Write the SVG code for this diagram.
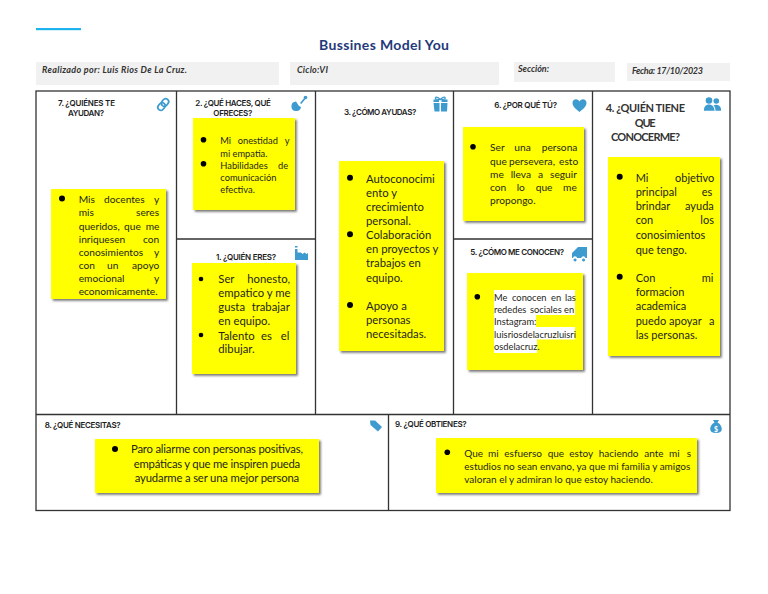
<svg xmlns="http://www.w3.org/2000/svg" width="768" height="594" viewBox="0 0 768 594">
<style>
text{font-family:"Lato","Liberation Sans",sans-serif;fill:#26261a}
.h{font-family:"Inter","Liberation Sans",sans-serif;font-weight:600;font-size:8px;fill:#1c1c1c}
.h4{font-family:"Lato","Liberation Sans",sans-serif;font-weight:700;font-size:11px;fill:#333}
.m{font-style:italic;font-weight:700;font-size:9px;fill:#333}
.note{fill:#ff0;filter:url(#sh)}
.bar{fill:#f1f1f1}
.grid{stroke:#333;stroke-width:1.3;fill:none}
.ic{fill:#3e9bcf}
.ics{fill:none;stroke:#3e9bcf}
.s95{font-size:9.3px}.s10{font-size:10px}.s105{font-size:10.2px}.s11{font-size:11px}.s115{font-size:11.3px}
</style>
<defs>
<filter id="sh" x="-10%" y="-10%" width="125%" height="125%"><feDropShadow dx="1.8" dy="1.8" stdDeviation="1.1" flood-color="#555" flood-opacity=".8"/></filter>
</defs>
<rect width="768" height="594" fill="#fff"/>
<rect x="36" y="28" width="45" height="2.2" fill="#1db4ee"/>
<text x="319" y="50" font-size="14" font-weight="700" textLength="130" style="fill:#1f3a7a">Bussines Model You</text>
<g id="meta">
<rect class="bar" x="36" y="62" width="243" height="23"/>
<rect class="bar" x="290" y="62" width="209" height="23"/>
<rect class="bar" x="514" y="62" width="101" height="20"/>
<rect class="bar" x="627" y="63" width="103" height="18"/>
<text class="m" x="42" y="73" textLength="145">Realizado por: Luis Rios De La Cruz.</text>
<text class="m" x="297" y="73" textLength="31">Ciclo:VI</text>
<text class="m" x="518" y="72" font-size="8" textLength="31">Sección:</text>
<text class="m" x="632" y="74" textLength="71">Fecha: 17/10/2023</text>
</g>
<g id="connectors">
<rect class="grid" x="36" y="91" width="694" height="419.5"/>
<path class="grid" d="M176.500 91V414.500M315.500 91V414.500M453.500 91V414.500M592.500 91V414.500M176.500 239H315.500M453.500 239H592.500M36 414.500H730M388.500 414.500V510.500"/>
</g>
<g id="n7">
<text class="h" x="58" y="106" textLength="57">7. ¿QUIÉNES TE</text>
<text class="h" x="68" y="116" textLength="36">AYUDAN?</text>
<g class="ics" stroke-width="1.7"><rect x="158.500" y="102.500" width="6" height="8" rx="3" transform="rotate(40 161.500 106.500)"/><rect x="162" y="98.500" width="6" height="8" rx="3" transform="rotate(40 165 102.500)"/></g>
<rect class="note" x="51" y="189" width="115" height="110"/>
<circle cx="62" cy="198.500" r="3"/>
<text class="s105"><tspan x="78.700" y="203">Mis</tspan><tspan x="104" y="203">docentes</tspan><tspan x="154" y="203">y</tspan><tspan x="78.700" y="216">mis</tspan><tspan x="136" y="216">seres</tspan><tspan x="78.700" y="229.500">queridos,</tspan><tspan x="124" y="229.500">que</tspan><tspan x="145.700" y="229.500">me</tspan><tspan x="78.700" y="243">inriquesen</tspan><tspan x="143" y="243">con</tspan><tspan x="78.700" y="256">conosimientos</tspan><tspan x="154" y="256">y</tspan><tspan x="78.700" y="269">con</tspan><tspan x="107" y="269">un</tspan><tspan x="132" y="269">apoyo</tspan><tspan x="78.700" y="281.500">emocional</tspan><tspan x="154" y="281.500">y</tspan><tspan x="78.700" y="294.500">economicamente.</tspan></text>
</g>
<g id="n2">
<text class="h" x="195.300" y="106" textLength="75.500">2. ¿QUÉ HACES, QUÉ</text>
<text class="h" x="213.300" y="116" textLength="39">OFRECES?</text>
<path class="ic" d="M296 101.500a4.800 4.800 0 1 0 5 5.500l-2-1zM300 103l5-6 1.300 1-5 6z"/><circle class="ic" cx="305.500" cy="97.500" r="1.800"/>
<rect class="note" x="193" y="118" width="102" height="92"/>
<circle cx="203.500" cy="139.700" r="2.800"/><circle cx="203.500" cy="163.700" r="2.800"/>
<text class="s95"><tspan x="220.300" y="144">Mi</tspan><tspan x="237.700" y="144">onestidad</tspan><tspan x="284.700" y="144">y</tspan><tspan x="220.300" y="156.500">mi empatia.</tspan><tspan x="220.300" y="169">Habilidades</tspan><tspan x="278" y="169">de</tspan><tspan x="220.300" y="180.500">comunicación</tspan><tspan x="220.300" y="192.500">efectiva.</tspan></text>
</g>
<g id="n1">
<text class="h" x="216" y="259.500" textLength="60">1. ¿QUIÉN ERES?</text>
<path class="ic" d="M295 246h2.500v1.500H295zM295 249h2.500v3.500l3.500 0 1.500 1.500 2-1.500 2 1.500 1.500-1V260H295z"/>
<rect class="note" x="192" y="263" width="104" height="111"/>
<circle cx="201" cy="279" r="2.300"/><circle cx="201" cy="335" r="2.300"/>
<text class="s115"><tspan x="218.300" y="283">Ser</tspan><tspan x="247.300" y="283">honesto,</tspan><tspan x="218.300" y="297">empatico y me</tspan><tspan x="218.300" y="311">gusta</tspan><tspan x="251.700" y="311">trabajar</tspan><tspan x="218.300" y="325">en equipo.</tspan><tspan x="218.300" y="339.500">Talento</tspan><tspan x="261" y="339.500">es</tspan><tspan x="280.700" y="339.500">el</tspan><tspan x="218.300" y="353">dibujar.</tspan></text>
</g>
<g id="n3">
<text class="h" x="344" y="115" textLength="72.300">3. ¿CÓMO AYUDAS?</text>
<path class="ic" d="M433.500 103h6v8.500h-5zM441 103h6.500l-.5 8.500h-6zM433.500 99.500h5.500v2.500h-5.500zM441.500 99.500h6v2.500h-6z"/><path class="ics" stroke-width="1.300" d="M440.300 99.500c-3-3.500-6-2.500-4.500-.3zM440.300 99.500c3-3.500 6-2.500 4.500-.3z"/>
<rect class="note" x="339" y="161" width="105" height="190"/>
<circle cx="350" cy="177.700" r="3"/><circle cx="350" cy="234.300" r="3"/><circle cx="350" cy="305" r="3"/>
<text class="s115"><tspan x="366" y="182.500">Autoconocimi</tspan><tspan x="366" y="196.500">ento y</tspan><tspan x="366" y="210.500">crecimiento</tspan><tspan x="366" y="225">personal.</tspan><tspan x="366" y="239.300">Colaboración</tspan><tspan x="366" y="253.300">en proyectos y</tspan><tspan x="366" y="267.300">trabajos en</tspan><tspan x="366" y="281.700">equipo.</tspan><tspan x="366" y="310">Apoyo a</tspan><tspan x="366" y="324.300">personas</tspan><tspan x="366" y="338.300">necesitadas.</tspan></text>
</g>
<g id="n6">
<text class="h" x="494.300" y="108" textLength="62.700">6. ¿POR QUÉ TÚ?</text>
<path class="ic" d="M579.500 112c-3-2.500-7-5.500-7-9 0-4 5-5 7-1.500 2-3.500 7-2.500 7 1.500 0 3.500-4 6.500-7 9z"/>
<rect class="note" x="463" y="127" width="121" height="94"/>
<circle cx="473" cy="146.700" r="2.800"/>
<text class="s105"><tspan x="490" y="151">Ser</tspan><tspan x="514.300" y="151">una</tspan><tspan x="541.700" y="151">persona</tspan><tspan x="490" y="164.500">que</tspan><tspan x="509" y="164.500">persevera,</tspan><tspan x="559" y="164.500">esto</tspan><tspan x="490" y="178">me</tspan><tspan x="510.700" y="178">lleva</tspan><tspan x="538" y="178">a</tspan><tspan x="550" y="178">seguir</tspan><tspan x="490" y="191">con</tspan><tspan x="516.700" y="191">lo</tspan><tspan x="535.700" y="191">que</tspan><tspan x="563" y="191">me</tspan><tspan x="490" y="204">propongo.</tspan></text>
</g>
<g id="n5">
<text class="h" x="470.300" y="255" textLength="93.700">5. ¿CÓMO ME CONOCEN?</text>
<path class="ic" d="M578 247h9v11h-1.500a2.200 2.200 0 0 0-4.300 0h-4a2.200 2.200 0 0 0-4.300 0H572v-5zM575 258.500a1.500 1.500 0 1 0 .1 0zM583.500 258.500a1.500 1.500 0 1 0 .1 0z"/>
<rect class="note" x="467" y="273" width="116" height="97"/>
<path fill="#fff" d="M494 290H575V315H494zM494 315H536V327H494zM494 327H575V339.500H494zM494 339.500H537V353H494z"/>
<circle cx="477.300" cy="296.700" r="2.800"/>
<text class="s95"><tspan x="494" y="300.500">Me</tspan><tspan x="512" y="300.500">conocen</tspan><tspan x="551" y="300.500">en</tspan><tspan x="565" y="300.500">las</tspan><tspan x="494" y="313">rededes</tspan><tspan x="530" y="313">sociales</tspan><tspan x="564" y="313">en</tspan><tspan x="494" y="325">Instagram:</tspan><tspan x="494" y="338">luisriosdelacruzluisri</tspan><tspan x="494" y="350">osdelacruz.</tspan></text>
</g>
<g id="n4">
<text class="h4" x="605.700" y="111.500" textLength="79.300">4. ¿QUIÉN TIENE</text>
<text class="h4" x="634.700" y="127" textLength="21">QUE</text>
<text class="h4" x="611" y="141" textLength="69">CONOCERME?</text>
<path class="ic" d="M704 110c0-4 2.500-5.500 5-5.500s5 1.500 5.500 5.500v.8h-10.500zM715.500 110.800c0-2-.5-4-2-5.300 2.500-1.500 7-.5 7.500 3.500v1.800z"/><circle class="ic" cx="709" cy="100.500" r="3.300"/><circle class="ic" cx="716.300" cy="101" r="2.800"/>
<rect class="note" x="608" y="157" width="112" height="199"/>
<circle cx="619.700" cy="176.700" r="3"/><circle cx="619.700" cy="276.700" r="3"/>
<text class="s11"><tspan x="635.700" y="181.500">Mi</tspan><tspan x="675" y="181.500">objetivo</tspan><tspan x="635.700" y="195.700">principal</tspan><tspan x="701.700" y="195.700">es</tspan><tspan x="635.700" y="210">brindar</tspan><tspan x="685" y="210">ayuda</tspan><tspan x="635.700" y="224">con</tspan><tspan x="700.300" y="224">los</tspan><tspan x="635.700" y="239">conosimientos</tspan><tspan x="635.700" y="253.500">que tengo.</tspan><tspan x="635.700" y="281.500">Con</tspan><tspan x="701.700" y="281.500">mi</tspan><tspan x="635.700" y="296">formacion</tspan><tspan x="635.700" y="310">academica</tspan><tspan x="635.700" y="324.500">puedo</tspan><tspan x="669" y="324.500">apoyar</tspan><tspan x="709" y="324.500">a</tspan><tspan x="635.700" y="338.500">las personas.</tspan></text>
</g>
<g id="n8">
<text class="h" x="44.700" y="428" textLength="76">8. ¿QUÉ NECESITAS?</text>
<path class="ic" d="M370 420.500h5l7 6.500-4 4.500-7.500-6.500z"/>
<rect class="note" x="95" y="439" width="224" height="54"/>
<circle cx="115" cy="449" r="3"/>
<text class="s115" x="131" y="453" textLength="172">Paro aliarme con personas positivas,</text>
<text class="s115" x="133.700" y="467.500" textLength="166.500">empáticas y que me inspiren pueda</text>
<text class="s115" x="134.700" y="482" textLength="164.500">ayudarme a ser una mejor persona</text>
</g>
<g id="n9">
<text class="h" x="395" y="427" textLength="71.700">9. ¿QUÉ OBTIENES?</text>
<path class="ic" d="M713 420h6l-1.500 2.500c3 1.500 4.300 4 4.300 6.500 0 2.500-2 4-5.800 4s-5.800-1.500-5.800-4c0-2.500 1.300-5 4.300-6.500z"/><text x="716" y="431.500" font-size="7" font-weight="700" text-anchor="middle" style="fill:#fff">$</text>
<rect class="note" x="436" y="438" width="261" height="55"/>
<circle cx="447.300" cy="452.300" r="2.800"/>
<text class="s10"><tspan x="464.300" y="457">Que</tspan><tspan x="488" y="457">mi</tspan><tspan x="504.300" y="457">esfuerso</tspan><tspan x="547.700" y="457">que</tspan><tspan x="569.300" y="457">estoy</tspan><tspan x="598.700" y="457">haciendo</tspan><tspan x="644.300" y="457">ante</tspan><tspan x="669" y="457">mi</tspan><tspan x="686.700" y="457">s</tspan></text>
<text class="s10" x="464.300" y="470" textLength="226">estudios no sean envano, ya que mi familia y amigos</text>
<text class="s10" x="464.300" y="483" textLength="188.500">valoran el y admiran lo que estoy haciendo.</text>
</g>
</svg>
